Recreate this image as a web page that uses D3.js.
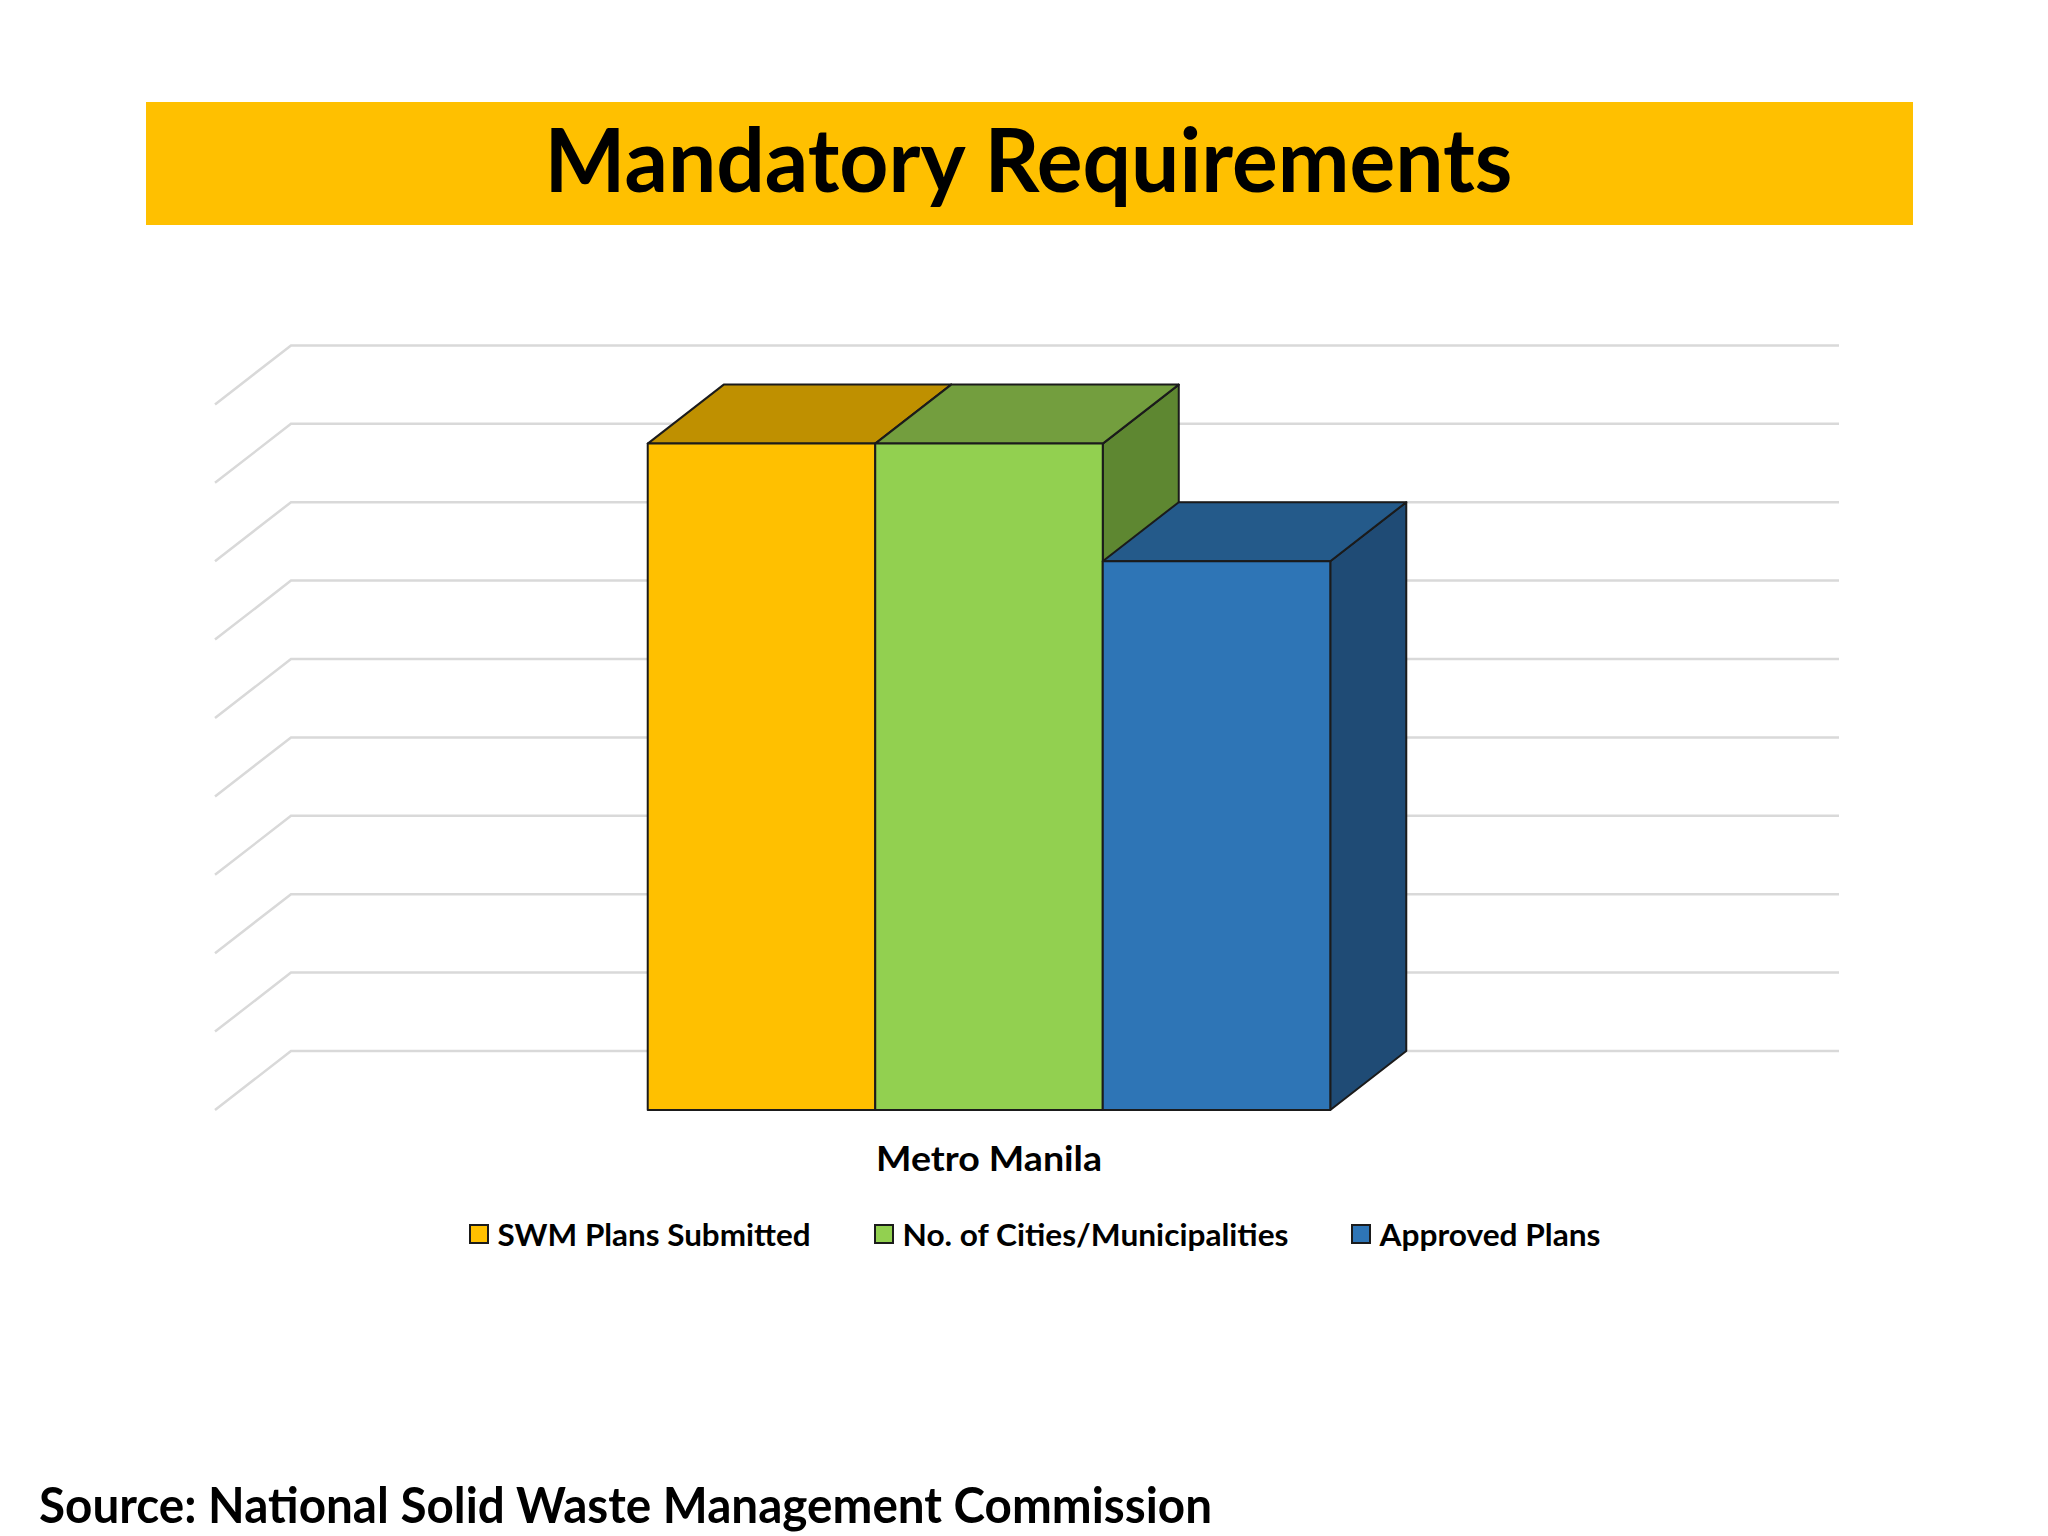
<!DOCTYPE html>
<html lang="en">
<head>
<meta charset="utf-8"/>
<title>Mandatory Requirements</title>
<script src="https://d3js.org/d3.v7.min.js"></script>
<style>
  body { margin: 0; background: #ffffff; }
  text { font-family: Lato, "Open Sans", sans-serif; font-weight: bold; fill: #000; }
</style>
</head>
<body>
<svg id="chart" width="2048" height="1536"></svg>
<script>
// data
const categories = ["Metro Manila"];
const seriesNames = ["SWM Plans Submitted", "No. of Cities/Municipalities", "Approved Plans"];
const seriesValues = [17, 17, 14];
const yMax = 18;

// styling for each series: front / top / side faces
const frontColors = ["#FFC000", "#92D050", "#2E75B6"];
const topColors = ["#BF9000", "#739E3E", "#245A8A"];
const sideColors = ["#A07800", "#5E8731", "#1F4B75"];

const svg = d3.select("#chart");

// 3D depth offset (front plane -> back wall)
const depth = {dx: 76, dy: -59};

// front plane of the plot
const plot = {left: 215, right: 1763, bottom: 1110, top: 404.4};

const x = d3.scaleBand()
  .domain(categories)
  .range([plot.left, plot.right])
  .padding(0.388);

const xInner = d3.scaleBand()
  .domain(seriesNames)
  .range([0, x.bandwidth()])
  .padding(0);

const y = d3.scaleLinear()
  .domain([0, yMax])
  .range([plot.bottom, plot.top]);

// title banner
svg.append("rect")
  .attr("x", 146).attr("y", 102)
  .attr("width", 1767).attr("height", 123)
  .attr("fill", "#FFC000");

svg.append("text")
  .attr("x", 1028.5).attr("y", 192)
  .attr("text-anchor", "middle")
  .attr("font-size", 88)
  .attr("textLength", 968)
  .attr("lengthAdjust", "spacingAndGlyphs")
  .text("Mandatory Requirements");

// gridlines: floor diagonal + back wall line
const grid = svg.append("g");
y.ticks(9).forEach(function(t) {
  const yf = y(t);
  grid.append("path")
    .attr("d", "M" + plot.left + "," + yf +
               "L" + (plot.left + depth.dx) + "," + (yf + depth.dy) +
               "L" + (plot.right + depth.dx) + "," + (yf + depth.dy))
    .attr("fill", "none")
    .attr("stroke", "#d9d9d9")
    .attr("stroke-width", 2.5);
});

// bars, drawn left to right so the later ones cover the earlier sides
const bars = svg.append("g")
  .attr("stroke", "#1b1b1b")
  .attr("stroke-width", 2)
  .attr("stroke-linejoin", "round");

categories.forEach(function(cat) {
  seriesNames.forEach(function(name, i) {
    const v = seriesValues[i];
    const x0 = x(cat) + xInner(name);
    const w = xInner.bandwidth();
    const yt = y(v);
    const yb = y(0);

    const side = [[x0 + w, yt], [x0 + w + depth.dx, yt + depth.dy],
                  [x0 + w + depth.dx, yb + depth.dy], [x0 + w, yb]];
    const top = [[x0, yt], [x0 + w, yt],
                 [x0 + w + depth.dx, yt + depth.dy], [x0 + depth.dx, yt + depth.dy]];

    bars.append("polygon")
      .attr("points", side.join(" "))
      .attr("fill", sideColors[i]);
    bars.append("polygon")
      .attr("points", top.join(" "))
      .attr("fill", topColors[i]);
    bars.append("rect")
      .attr("x", x0).attr("y", yt)
      .attr("width", w).attr("height", yb - yt)
      .attr("fill", frontColors[i]);
  });
});

// category label
categories.forEach(function(cat) {
  svg.append("text")
    .attr("x", x(cat) + x.bandwidth() / 2)
    .attr("y", 1171)
    .attr("text-anchor", "middle")
    .attr("font-size", 35)
    .attr("textLength", 226)
    .attr("lengthAdjust", "spacingAndGlyphs")
    .text(cat);
});

// legend
const legendX = [470, 875, 1352];
const legendW = [313, 386, 221];
const legend = svg.append("g");
seriesNames.forEach(function(name, i) {
  legend.append("rect")
    .attr("x", legendX[i]).attr("y", 1225)
    .attr("width", 18).attr("height", 18)
    .attr("fill", frontColors[i])
    .attr("stroke", "#1b1b1b")
    .attr("stroke-width", 2);
  legend.append("text")
    .attr("x", legendX[i] + 27.5)
    .attr("y", 1246)
    .attr("font-size", 31)
    .attr("textLength", legendW[i])
    .attr("lengthAdjust", "spacingAndGlyphs")
    .text(name);
});

// source note
svg.append("text")
  .attr("x", 39).attr("y", 1523)
  .attr("font-size", 50)
  .attr("textLength", 1173)
  .attr("lengthAdjust", "spacingAndGlyphs")
  .text("Source: National Solid Waste Management Commission");
</script>
</body>
</html>
